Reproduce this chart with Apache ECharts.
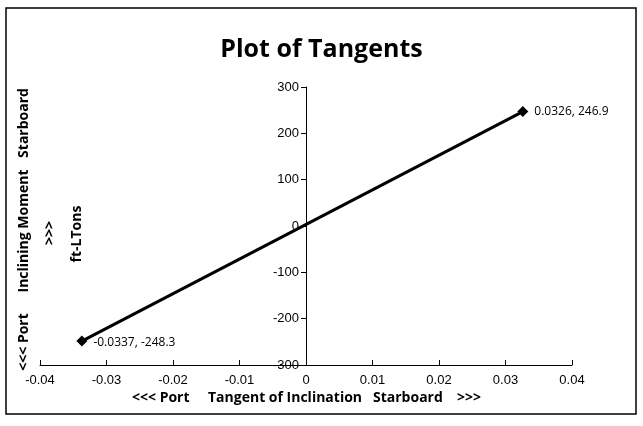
<!DOCTYPE html>
<html>
<head>
<meta charset="utf-8">
<script src="https://cdn.jsdelivr.net/npm/echarts@6/dist/echarts.min.js"></script>
<style>
  html, body { margin: 0; padding: 0; background: #fff; }
  #chart { width: 643px; height: 426px; }
</style>
</head>
<body>
<div id="chart"></div>
<script>
// tangent of inclination vs inclining moment
const tangents = [-0.0337, 0.0326];
const moments = [-248.3, 246.9];
const pointLabels = ['-0.0337, -248.3', '0.0326, 246.9'];
const xTicks = [-0.04, -0.03, -0.02, -0.01, 0, 0.01, 0.02, 0.03, 0.04];
const yTicks = [-300, -200, -100, 0, 100, 200, 300];

const labelFont = '"Open Sans", "Noto Sans", sans-serif';
const tickFont = '"Liberation Sans", Arial, sans-serif';
const boldName = 'bold 14px "Open Sans", "Noto Sans", sans-serif';

const chart = echarts.init(document.getElementById('chart'));

const points = tangents.map((t, i) => ({
  value: [t, moments[i]],
  label: {
    show: true,
    formatter: pointLabels[i],
    position: 'right',
    distance: 6,
    color: '#000',
    fontFamily: labelFont,
    fontSize: 12,
    offset: i === 0 ? [0, 2] : [0, 0]
  }
}));

// rotated y-axis name pieces, reading bottom to top
function vText(text, x, y) {
  return {
    type: 'text', x: x, y: y, rotation: Math.PI / 2,
    style: { text: text, font: boldName, fill: '#000', align: 'center', verticalAlign: 'middle' }
  };
}
function hText(text, x, y) {
  return {
    type: 'text', x: x, y: y,
    style: { text: text, font: boldName, fill: '#000', align: 'left', verticalAlign: 'middle' }
  };
}

chart.setOption({
  animation: false,
  backgroundColor: '#fff',
  title: {
    text: 'Plot of Tangents',
    left: 'center',
    top: 32,
    textStyle: { fontFamily: labelFont, fontWeight: 'bold', fontSize: 25, color: '#000' }
  },
  grid: { left: 40, right: 71, top: 87, bottom: 61 },
  xAxis: {
    type: 'value',
    min: xTicks[0],
    max: xTicks[xTicks.length - 1],
    interval: 0.01,
    axisLine: { onZero: false, lineStyle: { color: '#000', width: 1 } },
    axisTick: { inside: true, length: 5, lineStyle: { color: '#000' } },
    axisLabel: {
      color: '#000', fontFamily: tickFont, fontSize: 13, margin: 9,
      formatter: v => String(Math.round(v * 100) / 100)
    },
    splitLine: { show: false }
  },
  yAxis: {
    type: 'value',
    min: yTicks[0],
    max: yTicks[yTicks.length - 1],
    interval: 100,
    offset: -266,
    axisLine: { onZero: false, lineStyle: { color: '#000', width: 1 } },
    axisTick: { length: 5, lineStyle: { color: '#000' } },
    axisLabel: { color: '#000', fontFamily: tickFont, fontSize: 13, margin: 7 },
    splitLine: { show: false }
  },
  series: [{
    type: 'line',
    data: points,
    symbol: 'diamond',
    symbolSize: 11,
    lineStyle: { color: '#000', width: 3 },
    itemStyle: { color: '#000' },
    z: 5
  }],
  graphic: [
    {
      type: 'rect',
      shape: { x: 6, y: 8, width: 630, height: 406 },
      style: { fill: 'none', stroke: '#000', lineWidth: 1.5 },
      silent: true
    },
    hText('<<< Port', 132, 398),
    hText('Tangent of Inclination', 208, 398),
    hText('Starboard', 373, 398),
    hText('>>>', 457, 398),
    vText('<<< Port', 24, 342),
    vText('Inclining Moment', 24, 231),
    vText('Starboard', 24, 123),
    vText('>>>', 50, 233),
    vText('ft-LTons', 77, 234)
  ]
});
</script>
</body>
</html>
